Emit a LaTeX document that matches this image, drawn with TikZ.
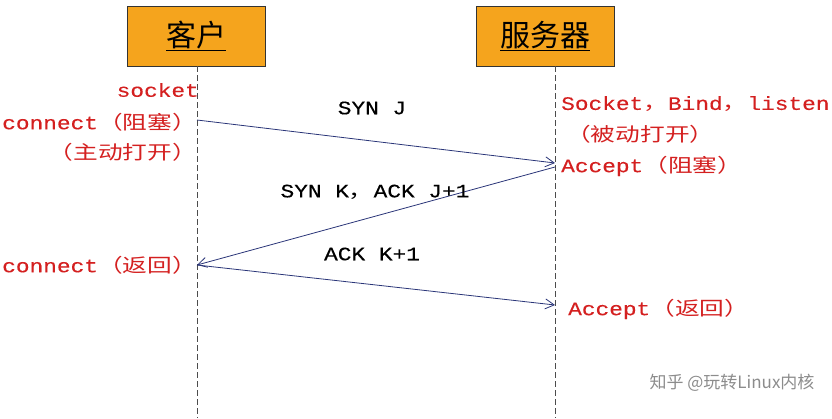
\documentclass[tikz,border=0pt]{standalone}
\usepackage{fontspec}
\setmainfont{Liberation Mono}[FakeStretch=1.2,FakeBold=0.3]
\newfontfamily\cjk{Noto Sans CJK SC}
\newfontfamily\cjkw{Noto Sans CJK SC}[FakeStretch=1.3]
\usetikzlibrary{arrows.meta}
\definecolor{boxfill}{HTML}{F5A41D}
\definecolor{arrowc}{HTML}{2A3578}
\definecolor{redt}{HTML}{D42020}
\begin{document}
\begin{tikzpicture}[x=1pt,y=-1pt,
  box/.style={draw=black!80,fill=boxfill,line width=0.8pt,minimum width=138pt,minimum height=60pt,font=\cjk\fontsize{30}{32}\selectfont},
  life/.style={dashed,black!70,line width=0.7pt,dash pattern=on 6pt off 3pt},
  msg/.style={arrowc,line width=0.8pt,-{Straight Barb[length=9pt,width=10pt]}},
  lab/.style={font=\fontsize{19}{22}\selectfont,inner sep=0pt},
  red/.style={lab,text=redt}]
\useasboundingbox (0,0) rectangle (832,418);
\node[box] (cli) at (196,36) {\underline{客户}};
\node[box] (srv) at (545,36) {\underline{服务器}};
\coordinate (cb) at (197,418);
\coordinate (sb) at (555,418);
\draw[life] (cli.south -| cb) -- (cb);
\draw[life] (srv.south -| sb) -- (sb);
\coordinate (c1) at (197,120);
\coordinate (s1) at (555,163);
\coordinate (s2) at (555,167);
\coordinate (c2) at (197,265);
\coordinate (s3) at (555,305);
\draw[msg] (c1) -- (s1);
\draw[msg] (s2) -- (c2);
\draw[msg] (c2) -- (s3);
\node[lab] (m1) at (372,108) {SYN J};
\node[lab] (m2) at (375,192) {SYN K{\cjkw，}ACK J+1};
\node[lab] (m3) at (372,254) {ACK K+1};
\node[red,anchor=east] (l1) at (199,90) {socket};
\node[red,anchor=east] (l2) at (197,122) {connect{\cjkw（阻塞）}};
\node[red,anchor=east] (l3) at (197,152) {\cjkw（主动打开）};
\node[red,anchor=east] (l4) at (197,265) {connect{\cjkw（返回）}};
\node[red,anchor=west] (r1) at (561,104) {Socket{\cjkw，}Bind{\cjkw，}listen};
\node[red,anchor=west] (r2) at (566,134) {\cjkw（被动打开）};
\node[red,anchor=west] (r3) at (561,166) {Accept{\cjkw（阻塞）}};
\node[red,anchor=west] (r4) at (568,309) {Accept{\cjkw（返回）}};
\node[anchor=east,text=black!45,font=\cjk\fontsize{17}{20}\selectfont] (wm) at (818,383) {知乎 @玩转Linux内核};
\end{tikzpicture}
\end{document}
